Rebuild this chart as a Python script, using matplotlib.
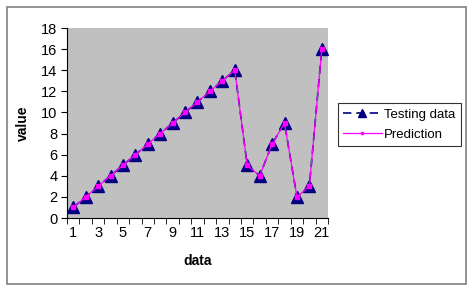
import matplotlib
matplotlib.use("Agg")
import matplotlib.pyplot as plt
from matplotlib.patches import Rectangle

x = list(range(1, 22))
testing = [1, 2, 3, 4, 5, 6, 7, 8, 9, 10, 11, 12, 13, 14, 5, 4, 7, 9, 2, 3, 16]
prediction = [1, 2, 3, 4, 5, 6, 7, 8, 9, 10, 11, 12, 13, 14, 5, 4, 7, 9, 2, 3, 16]
xticklabels = [str(v) for v in range(1, 22, 2)]
yticks = list(range(0, 19, 2))

plt.rcParams['font.family'] = ['Liberation Sans', 'DejaVu Sans']

fig = plt.figure(figsize=(4.74, 2.92), dpi=100)
fig.patches.append(Rectangle((7/474, 1-284/292), (466-7)/474, (284-7)/292,
                             transform=fig.transFigure, fill=False,
                             edgecolor='#808080', linewidth=1.2))

ax = fig.add_axes([67/474, 1-218/292, (328-67)/474, (218-28)/292])
ax.set_facecolor('#C0C0C0')
ax.plot(x, testing, color='#000080', linestyle=(0, (5, 3)), linewidth=1.2,
        marker='^', markersize=8, markerfacecolor='#000080', markeredgecolor='#000080',
        label='Testing data', zorder=3)
ax.plot(x, prediction, color='#FF00FF', linestyle='-', linewidth=0.9,
        marker='s', markersize=2.5, markerfacecolor='#FF00FF', markeredgecolor='#FF00FF',
        label='Prediction', zorder=4)

ax.set_xlim(0.5, 21.5)
ax.set_ylim(0, 18)
ax.set_yticks(yticks)
ax.set_xticks(list(range(1, 22, 2)))
ax.set_xticklabels(xticklabels)
ax.set_xticks([v + 0.5 for v in range(0, 22)], minor=True)
ax.tick_params(axis='x', which='major', length=0, labelsize=10.5, pad=6)
ax.tick_params(axis='x', which='minor', length=4, direction='out', color='black')
ax.tick_params(axis='y', which='major', length=4, direction='out', labelsize=10.5, pad=3)
for s in ['top', 'right']:
    ax.spines[s].set_visible(False)
for s in ['left', 'bottom']:
    ax.spines[s].set_color('black')
    ax.spines[s].set_linewidth(0.8)

ax.set_xlabel('data', fontsize=10, fontweight='bold', labelpad=10)
ax.set_ylabel('value', fontsize=10, fontweight='bold', labelpad=8)

leg = fig.legend(loc='upper left', bbox_to_anchor=(338/474, 1-103/292),
                 frameon=True, fancybox=False, edgecolor='black', fontsize=9.5,
                 handlelength=2.9, borderpad=0.4, labelspacing=0.6,
                 handletextpad=0.2, borderaxespad=0, markerscale=0.8)
leg.get_frame().set_linewidth(0.8)

fig.savefig('out.png', dpi=100)
